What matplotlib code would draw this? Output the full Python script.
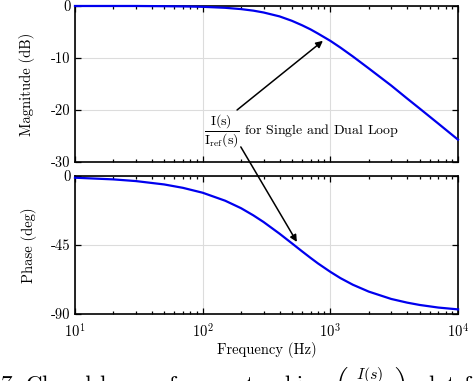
import matplotlib
matplotlib.use('Agg')
import matplotlib.pyplot as plt
import numpy as np

# values
freq = [10, 20, 30, 50, 70, 100, 150, 200, 250, 300, 400, 500, 600, 700, 800,
        1000, 1200, 1500, 2000, 3000, 4000, 5000, 7000, 10000]
mag_db = [0.0, 0.0, 0.0, -0.04, -0.08, -0.16, -0.35, -0.6, -0.9, -1.25, -2.0, -2.85,
          -3.7, -4.5, -5.3, -6.7, -8.0, -9.7, -12.0, -15.3, -17.8, -19.7, -22.6, -25.7]
phase_deg = [-1.1, -2.2, -3.3, -5.5, -7.7, -10.9, -16.1, -21.0, -25.7, -30.0, -37.6,
             -43.9, -49.1, -53.4, -57.0, -62.5, -66.6, -70.9, -75.4, -80.2, -82.6,
             -84.1, -85.8, -87.0]
mag_ticks = [0, -10, -20, -30]
phase_ticks = [0, -45, -90]

plt.rcParams['font.family'] = 'cmr10'
plt.rcParams['mathtext.fontset'] = 'cm'
plt.rcParams['axes.formatter.use_mathtext'] = True
plt.rcParams['axes.unicode_minus'] = False

fig = plt.figure(figsize=(4.74, 3.81), dpi=100)
ax1 = fig.add_axes([0.1582, 0.5748, 0.808, 0.4095])
ax2 = fig.add_axes([0.1582, 0.1759, 0.808, 0.3621])

blue = '#0000ee'
ax1.semilogx(freq, mag_db, color=blue, lw=1.6, clip_on=False, zorder=3)
ax2.semilogx(freq, phase_deg, color=blue, lw=1.6, clip_on=False, zorder=3)

for ax in (ax1, ax2):
    ax.set_xlim(10, 1e4)
    ax.grid(True, which='major', color='#dcdcdc', lw=0.8)
    ax.tick_params(which='both', direction='in', top=True, right=True, labelsize=10.5,
                   width=0.9, pad=3)
    ax.tick_params(which='major', length=4)
    ax.tick_params(which='minor', length=2.5)
    for s in ax.spines.values():
        s.set_linewidth(1.2)

ax1.set_ylim(-30, 0)
ax1.set_yticks(mag_ticks)
ax1.set_yticklabels([str(t) for t in mag_ticks])
ax1.tick_params(labelbottom=False)
ax1.set_ylabel('Magnitude (dB)', fontsize=10.5)

ax2.set_ylim(-90, 0)
ax2.set_yticks(phase_ticks)
ax2.set_yticklabels([str(t) for t in phase_ticks])
ax2.tick_params(axis='x', which='both', pad=6)
ax2.set_ylabel('Phase (deg)', fontsize=10.5)
ax2.set_xlabel('Frequency (Hz)', fontsize=10.5, labelpad=1)
ax1.yaxis.set_label_coords(-0.105, 0.5)
ax2.yaxis.set_label_coords(-0.1, 0.5)

ax1.text(102, -24.2, r'$\dfrac{\mathrm{I(s)}}{\mathrm{I_{ref}(s)}}$ for Single and Dual Loop',
         fontsize=10, va='center', ha='left', zorder=5)
arrow = dict(arrowstyle='-|>', color='black', lw=1.1, mutation_scale=10, shrinkA=0, shrinkB=0)
ax1.annotate('', xy=(875, -6.7), xytext=(186, -20.0), arrowprops=arrow)
ax2.annotate('', xy=(547, -43.0), xytext=(199, -27.1), textcoords=ax1.transData,
             arrowprops=arrow, annotation_clip=False)

fig.text(0.0, -0.03, r'7. Closed-loop reference tracking $\left(\frac{I(s)}{I_{ref}(s)}\right)$ plot for',
         fontsize=16.5, ha='left', va='baseline')

fig.savefig('out.png', dpi=100)
